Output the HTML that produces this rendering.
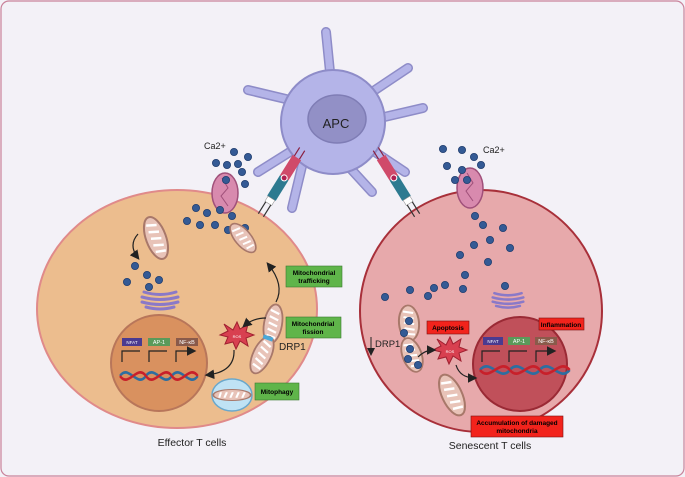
<!DOCTYPE html>
<html><head><meta charset="utf-8"><style>
body{margin:0;background:#f3f1f7}
svg{display:block;font-family:"Liberation Sans",sans-serif}
</style></head><body>
<svg width="685" height="477" viewBox="0 0 685 477" xmlns="http://www.w3.org/2000/svg">
<defs>
<marker id="ah" markerWidth="8" markerHeight="8" refX="6" refY="4" orient="auto"><path d="M0,0 L8,4 L0,8 z" fill="#222"/></marker>
<g id="mito"><ellipse cx="0" cy="0" rx="10" ry="22" fill="#e8c3b8" stroke="#a8786a" stroke-width="2"/><path d="M-5,-15 L5,-12 M-5,-8 L5,-5 M-5,-1 L5,2 M-5,6 L5,9 M-5,13 L5,15" stroke="#fff" stroke-width="2.5"/></g>
<g id="golgi" fill="none" stroke="#8a79c8" stroke-width="3" stroke-linecap="round"><path d="M-16,-8 Q0,-3 16,-8"/><path d="M-18,-3 Q0,2 18,-3"/><path d="M-18,2 Q0,7 18,2"/><path d="M-14,7 Q0,11 14,7"/></g>
<g id="dna"><path d="M0,0 C12,-14 24,14 36,0 C48,-14 60,14 72,0 C84,-14 96,14 108,0" stroke="#2d6ea0" stroke-width="3" fill="none"/><path d="M0,0 C12,14 24,-14 36,0 C48,14 60,-14 72,0 C84,14 96,-14 108,0" stroke="#c8202a" stroke-width="3" fill="none"/></g>
<g id="dot"><circle r="3.6" fill="#345a95" stroke="#223f70" stroke-width="0.8"/></g>
<g id="rec">
<path d="M-3,-40 L-3,-30 M3,-40 L3,-30" stroke="#8a2040" stroke-width="1.2"/>
<rect x="-5" y="-30" width="10" height="24" fill="#d04a6a"/>
<rect x="-5" y="-6" width="10" height="24" fill="#2d7a90"/>
<rect x="-4" y="18" width="8" height="6" fill="#fff" stroke="#888" stroke-width="0.5"/>
<path d="M-3,24 L-3,38 M3,24 L3,38" stroke="#333" stroke-width="1.2"/>
<circle cx="0" cy="-6" r="3" fill="#b02050" stroke="#fff"/>
</g>
</defs>
<rect x="1" y="1" width="683" height="475" rx="8" fill="#f3f1f7" stroke="#c9829a" stroke-width="1.2"/>

<!-- cells -->
<ellipse cx="177" cy="309" rx="140" ry="119" fill="#ecbd8e" stroke="#e08a8a" stroke-width="2"/>
<ellipse cx="481" cy="311" rx="121" ry="121" fill="#e7a9ab" stroke="#a8303a" stroke-width="2"/>

<!-- APC -->
<path d="M290,100 L248,90 M330,72 L326,32 M372,92 L408,68 M380,118 L423,108 M372,150 L405,172 M293,150 L258,172 M303,162 L292,208 M350,168 L372,192" stroke="#8e8cc8" stroke-width="10" stroke-linecap="round"/>
<path d="M290,100 L248,90 M330,72 L326,32 M372,92 L408,68 M380,118 L423,108 M372,150 L405,172 M293,150 L258,172 M303,162 L292,208 M350,168 L372,192" stroke="#b4b4e8" stroke-width="7" stroke-linecap="round"/>
<circle cx="333" cy="122" r="52" fill="#b4b4e8" stroke="#8e8cc8" stroke-width="2"/>
<ellipse cx="337" cy="119" rx="29" ry="24" fill="#9290c6" stroke="#7f7db5" stroke-width="1.5"/>
<text x="336" y="128" font-size="13" text-anchor="middle" fill="#222">APC</text>

<!-- receptors -->
<g transform="translate(281,183) rotate(32)"><use href="#rec"/></g>
<g transform="translate(397,183) rotate(-32)"><use href="#rec"/></g>

<!-- channels -->
<ellipse cx="225" cy="193" rx="13" ry="20" fill="#d88aae" stroke="#a0507a" stroke-width="1.5"/>
<path d="M222,178 L228,188 L221,196 L228,206" stroke="#a0507a" fill="none"/>
<ellipse cx="470" cy="188" rx="13" ry="20" fill="#d88aae" stroke="#a0507a" stroke-width="1.5"/>
<path d="M467,173 L473,183 L466,191 L473,201" stroke="#a0507a" fill="none"/>

<text x="204" y="149" font-size="9" fill="#222">Ca2+</text>
<text x="483" y="153" font-size="9" fill="#222">Ca2+</text>

<!-- dots left -->
<g>
<use href="#dot" x="234" y="152"/><use href="#dot" x="248" y="157"/><use href="#dot" x="216" y="163"/><use href="#dot" x="227" y="165"/><use href="#dot" x="238" y="164"/><use href="#dot" x="242" y="172"/><use href="#dot" x="245" y="184"/><use href="#dot" x="226" y="180"/>
<use href="#dot" x="196" y="208"/><use href="#dot" x="207" y="213"/><use href="#dot" x="220" y="210"/><use href="#dot" x="232" y="216"/><use href="#dot" x="187" y="221"/><use href="#dot" x="200" y="225"/><use href="#dot" x="215" y="225"/><use href="#dot" x="228" y="230"/><use href="#dot" x="245" y="228"/>
<use href="#dot" x="135" y="266"/><use href="#dot" x="147" y="275"/><use href="#dot" x="127" y="282"/><use href="#dot" x="159" y="280"/><use href="#dot" x="149" y="287"/>
</g>
<!-- dots right -->
<g>
<use href="#dot" x="443" y="149"/><use href="#dot" x="462" y="150"/><use href="#dot" x="474" y="157"/><use href="#dot" x="447" y="166"/><use href="#dot" x="462" y="170"/><use href="#dot" x="481" y="165"/><use href="#dot" x="467" y="180"/><use href="#dot" x="455" y="180"/>
<use href="#dot" x="475" y="216"/><use href="#dot" x="483" y="225"/><use href="#dot" x="503" y="228"/><use href="#dot" x="490" y="240"/><use href="#dot" x="474" y="245"/><use href="#dot" x="510" y="248"/><use href="#dot" x="460" y="255"/><use href="#dot" x="488" y="262"/><use href="#dot" x="465" y="275"/><use href="#dot" x="445" y="285"/><use href="#dot" x="410" y="290"/><use href="#dot" x="428" y="296"/><use href="#dot" x="434" y="288"/><use href="#dot" x="463" y="289"/><use href="#dot" x="505" y="286"/><use href="#dot" x="385" y="297"/>
</g>

<!-- left organelles -->
<use href="#mito" transform="translate(156,238) rotate(-20)"/>
<use href="#mito" transform="translate(243,238) rotate(-40) scale(0.8)"/>
<use href="#golgi" transform="translate(160,300)"/>
<use href="#mito" transform="translate(273,324) rotate(10) scale(0.9)"/>
<use href="#mito" transform="translate(262,355) rotate(25) scale(0.9)"/>
<rect x="263" y="336" width="10" height="4" fill="#4aa8d8" transform="rotate(20 268 338)"/>
<ellipse cx="232" cy="395" rx="20" ry="16" fill="#bfe2f4" stroke="#6aa8cc" stroke-width="1.5"/>
<use href="#mito" transform="translate(232,395) rotate(90) scale(0.55,0.85)"/>

<!-- left nucleus -->
<circle cx="159" cy="363" r="48" fill="#d9915f" stroke="#b8765a" stroke-width="2"/>
<rect x="122" y="338" width="20" height="8" fill="#4a3a90"/><text x="132" y="344" font-size="4.5" fill="#fff" text-anchor="middle">NFAT</text>
<rect x="148" y="338" width="22" height="8" fill="#5a9a5a"/><text x="159" y="344" font-size="5.5" fill="#fff" text-anchor="middle">AP-1</text>
<rect x="176" y="338" width="22" height="8" fill="#8a5a4a"/><text x="187" y="344" font-size="5.5" fill="#fff" text-anchor="middle">NF-κB</text>
<path d="M122,362 V351 H140 M149,362 V351 H167 M176,362 V351 H194" stroke="#222" stroke-width="1.2" fill="none" marker-end="url(#ah)"/>
<use href="#dna" transform="translate(120,376) scale(0.72,0.9)"/>

<polygon points="233,330 237,322 240,329 248,324 246,332 254,335 246,338 248,346 240,341 236,349 233,342 225,344 228,337 220,335 228,331 224,324" fill="#d84050" stroke="#a02030"/>
<text x="237" y="338" font-size="4" fill="#fff" text-anchor="middle">ROS</text>

<g fill="none" stroke="#222" stroke-width="1.2" marker-end="url(#ah)">
<path d="M138,234 Q128,245 138,258"/>
<path d="M276,302 Q285,285 268,264"/>
<path d="M266,318 Q253,318 244,326"/>
<path d="M234,350 Q235,372 207,375"/>
</g>

<rect x="286" y="266" width="56" height="21" fill="#5fb54a" stroke="#3a7a30" stroke-width="0.6"/>
<text x="314" y="275" font-size="6.5" font-weight="bold" text-anchor="middle">Mitochondrial</text><text x="314" y="283" font-size="6.5" font-weight="bold" text-anchor="middle">trafficking</text>
<rect x="286" y="317" width="55" height="21" fill="#5fb54a" stroke="#3a7a30" stroke-width="0.6"/>
<text x="313" y="326" font-size="6.5" font-weight="bold" text-anchor="middle">Mitochondrial</text><text x="313" y="334" font-size="6.5" font-weight="bold" text-anchor="middle">fission</text>
<rect x="255" y="383" width="44" height="17" fill="#5fb54a" stroke="#3a7a30" stroke-width="0.6"/>
<text x="277" y="394" font-size="6.5" font-weight="bold" text-anchor="middle">Mitophagy</text>
<text x="279" y="350" font-size="10" fill="#222">DRP1</text>

<!-- right organelles -->
<use href="#golgi" transform="translate(508,300) scale(0.85)"/>
<use href="#mito" transform="translate(409,323) rotate(-5) scale(1,0.8)"/>
<use href="#mito" transform="translate(412,355) rotate(-20) scale(0.95,0.8)"/>
<use href="#dot" x="409" y="321"/><use href="#dot" x="404" y="333"/><use href="#dot" x="410" y="349"/><use href="#dot" x="408" y="359"/><use href="#dot" x="418" y="365"/>
<use href="#mito" transform="translate(452,395) rotate(-25)"/>
<text x="375" y="347" font-size="9.5" fill="#222">DRP1</text>
<path d="M371,337 V354" stroke="#222" stroke-width="1" marker-end="url(#ah)"/>

<circle cx="520" cy="364" r="47" fill="#c0505a" stroke="#9a2a35" stroke-width="2"/>
<rect x="483" y="337" width="20" height="8" fill="#4a3a90"/><text x="493" y="343" font-size="4.5" fill="#fff" text-anchor="middle">NFAT</text>
<rect x="508" y="337" width="22" height="8" fill="#5a9a5a"/><text x="519" y="343" font-size="5.5" fill="#fff" text-anchor="middle">AP-1</text>
<rect x="535" y="337" width="22" height="8" fill="#8a5a4a"/><text x="546" y="343" font-size="5.5" fill="#fff" text-anchor="middle">NF-κB</text>
<path d="M482,362 V351 H500 M509,362 V351 H527 M536,362 V351 H554" stroke="#222" stroke-width="1.2" fill="none" marker-end="url(#ah)"/>
<use href="#dna" transform="translate(480,370) scale(0.83,0.9)"/>

<polygon points="446,345 450,337 453,344 461,339 459,347 467,350 459,353 461,361 453,356 449,364 446,357 438,359 441,352 433,350 441,346 437,339" fill="#d84050" stroke="#a02030"/>
<text x="450" y="353" font-size="4" fill="#fff" text-anchor="middle">ROS</text>
<g fill="none" stroke="#222" stroke-width="1.2" marker-end="url(#ah)">
<path d="M418,357 Q425,350 434,350"/>
<path d="M456,365 Q460,378 475,378"/>
</g>

<rect x="427" y="321" width="42" height="13" fill="#f2231c" stroke="#7a1010" stroke-width="0.6"/>
<text x="448" y="330" font-size="6.5" font-weight="bold" text-anchor="middle">Apoptosis</text>
<rect x="539" y="318" width="45" height="12" fill="#f2231c" stroke="#7a1010" stroke-width="0.6"/>
<text x="561" y="327" font-size="6.5" font-weight="bold" text-anchor="middle">Inflammation</text>
<rect x="471" y="416" width="92" height="21" fill="#f2231c" stroke="#7a1010" stroke-width="0.6"/>
<text x="517" y="425" font-size="6.5" font-weight="bold" text-anchor="middle">Accumulation of damaged</text><text x="517" y="433" font-size="6.5" font-weight="bold" text-anchor="middle">mitochondria</text>

<text x="192" y="446" font-size="10.5" text-anchor="middle" fill="#222">Effector T cells</text>
<text x="490" y="449" font-size="10.5" text-anchor="middle" fill="#222">Senescent T cells</text>
</svg>
</body></html>
